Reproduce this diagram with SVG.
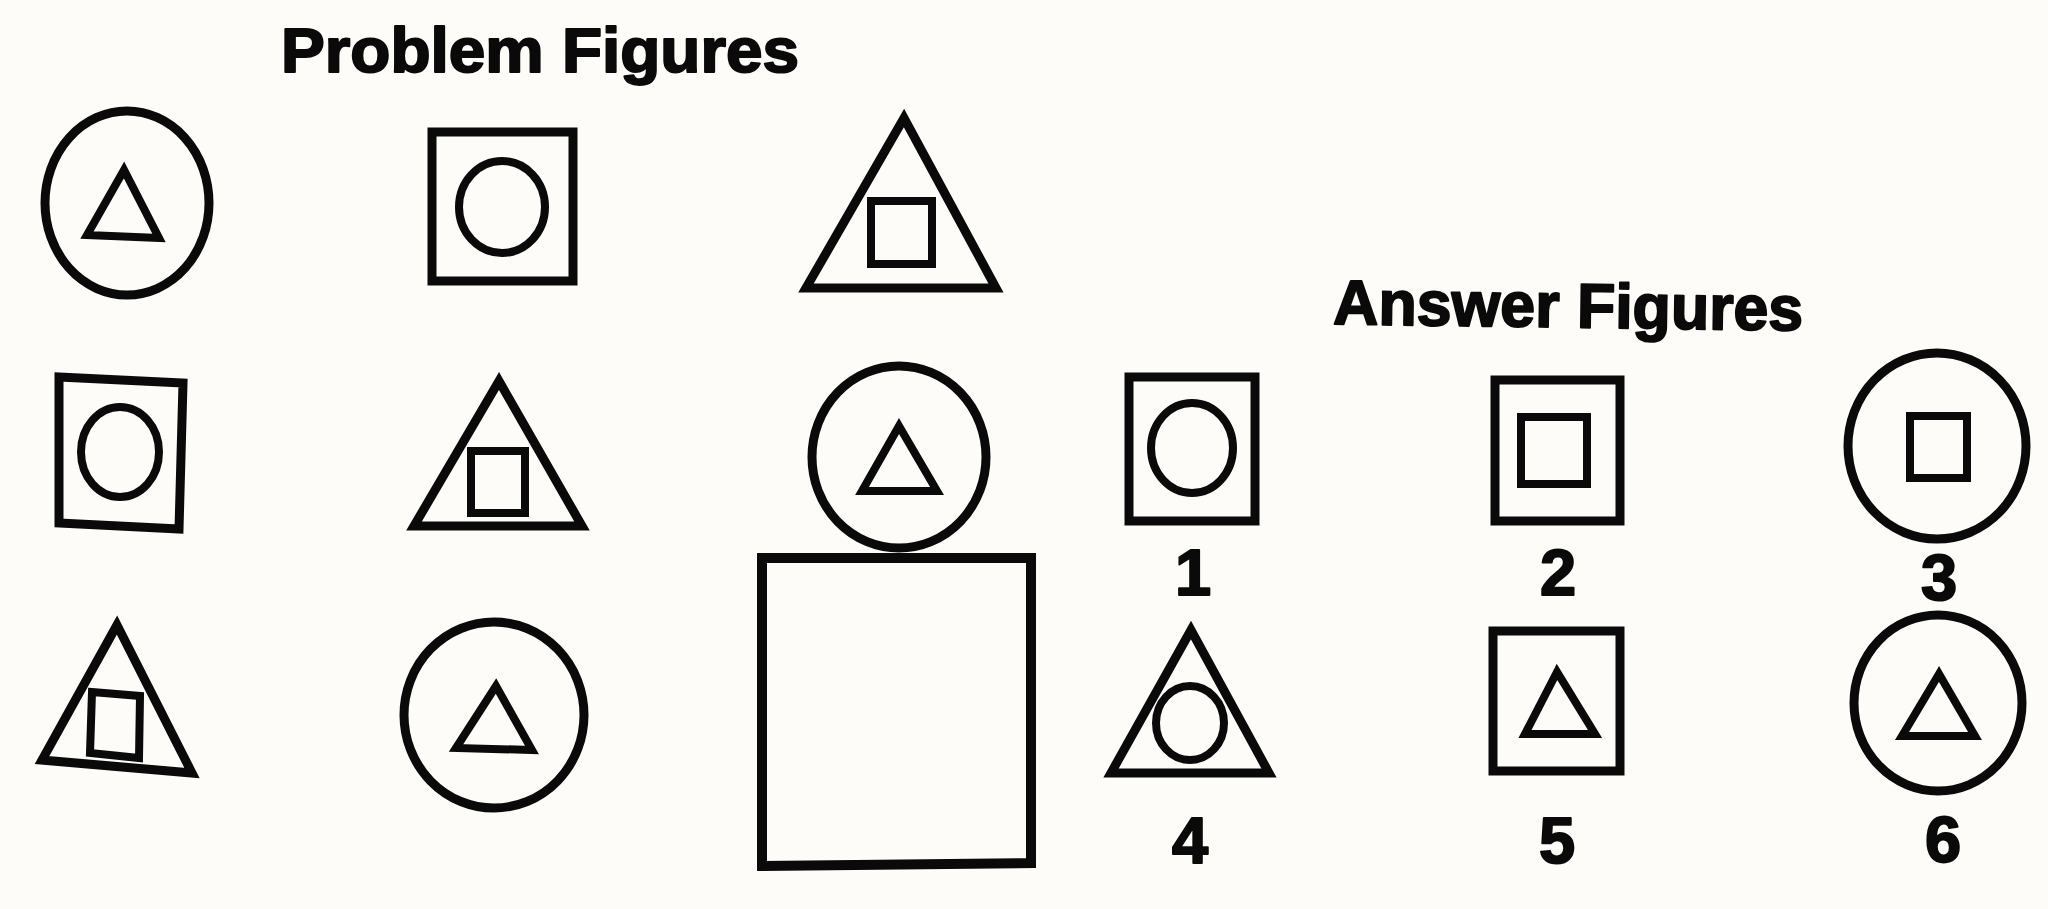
<svg xmlns="http://www.w3.org/2000/svg" width="2048" height="909" viewBox="0 0 2048 909">
<style>
.s{fill:none;stroke:#0a0a0a;stroke-width:9;stroke-linejoin:miter}
.t{fill:none;stroke:#0a0a0a;stroke-width:8;stroke-linejoin:miter}
.h{font-family:"Liberation Sans",Arial,sans-serif;font-weight:bold;fill:#0a0a0a;stroke:#0a0a0a;stroke-width:2;stroke-linejoin:round}
.n{font-family:"Liberation Sans",Arial,sans-serif;font-weight:bold;font-size:65px;fill:#0a0a0a;stroke:#0a0a0a;stroke-width:2;stroke-linejoin:round;text-anchor:middle}
</style>
<rect x="0" y="0" width="2048" height="909" fill="#fdfcf8"/>
<text class="h" x="281" y="72" font-size="63" textLength="518" lengthAdjust="spacingAndGlyphs">Problem Figures</text>
<text class="h" x="1333" y="324" font-size="63" textLength="470" lengthAdjust="spacingAndGlyphs" transform="rotate(0.8 1333 324)">Answer Figures</text>
<g id="p1"><ellipse class="s" cx="127" cy="203" rx="82" ry="92"/><polygon class="t" points="124,170 87,235 159,238"/></g>
<g id="p2"><rect class="s" x="432" y="132" width="141" height="149"/><ellipse class="t" cx="502" cy="207" rx="43" ry="46"/></g>
<g id="p3"><polygon class="s" points="904,118 806,288 996,288"/><rect class="t" x="871" y="201" width="61" height="63"/></g>
<g id="p4"><polygon class="s" points="59,377 183,383 179,529 59,523"/><ellipse class="t" cx="120" cy="452" rx="39" ry="45"/></g>
<g id="p5"><polygon class="s" points="499,381 414,526 582,526"/><rect class="t" x="471" y="451" width="54" height="62"/></g>
<g id="p6"><ellipse class="s" cx="899" cy="457" rx="87" ry="91"/><polygon class="t" points="899,426 862,491 937,491"/></g>
<g id="p7"><polygon class="s" points="117,625 42,760 192,773"/><polygon class="t" points="92,692 140,696 139,758 90,753"/></g>
<g id="p8"><ellipse class="s" cx="494" cy="715" rx="90" ry="93"/><polygon class="t" points="496,686 456,748 532,750"/></g>
<g id="q"><polygon class="s" style="stroke-width:10" points="762,558 1031,558 1031,863 762,866"/></g>
<g id="a1"><rect class="s" x="1129" y="377" width="126" height="144"/><ellipse class="t" cx="1192" cy="448" rx="41" ry="45"/><text class="n" x="1193" y="595">1</text></g>
<g id="a2"><rect class="s" x="1495" y="380" width="125" height="141"/><rect class="t" x="1521" y="417" width="66" height="67"/><text class="n" x="1558" y="595">2</text></g>
<g id="a3"><ellipse class="s" cx="1937" cy="446" rx="89" ry="93"/><rect class="t" x="1910" y="416" width="57" height="62"/><text class="n" x="1939" y="600">3</text></g>
<g id="a4"><polygon class="s" points="1191,630 1111,773 1269,773"/><ellipse class="t" cx="1190" cy="723" rx="34" ry="37"/><text class="n" x="1190" y="863">4</text></g>
<g id="a5"><rect class="s" x="1493" y="631" width="127" height="140"/><polygon class="t" points="1557,672 1525,734 1595,734"/><text class="n" x="1557" y="863">5</text></g>
<g id="a6"><ellipse class="s" cx="1938" cy="703" rx="84" ry="88"/><polygon class="t" points="1939,674 1902,736 1975,736"/><text class="n" x="1943" y="862">6</text></g>
<g id="connectors"/>
</svg>
